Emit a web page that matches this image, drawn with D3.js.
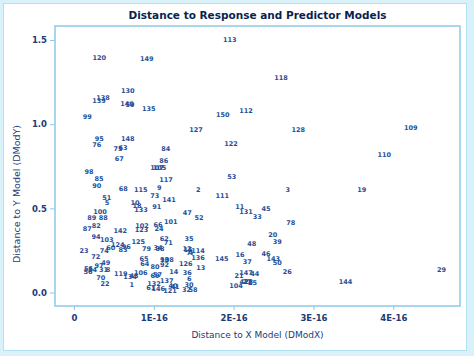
<!DOCTYPE html>
<html><head><meta charset="utf-8">
<script src="https://cdn.jsdelivr.net/npm/d3@7"></script>
<style>
html,body{margin:0;padding:0;background:#d9f2fa;}
svg{display:block;font-family:"DejaVu Sans",Verdana,sans-serif;}
</style></head>
<body><svg id="chart" width="474" height="356"></svg>
<script>
// Observation labels
const labels = [1,2,3,4,5,6,7,8,9,10,11,12,13,14,15,16,18,19,20,21,22,23,24,25,26,27,28,29,30,31,32,33,34,35,36,37,38,39,40,41,42,43,44,45,46,47,48,49,50,51,52,53,54,55,56,57,58,59,60,61,62,63,64,65,66,67,68,69,70,71,72,73,74,75,76,78,79,80,82,83,84,85,86,87,88,89,90,91,92,93,94,95,96,97,98,99,100,101,102,103,104,105,106,107,108,109,110,111,112,113,114,115,117,118,119,120,121,122,123,124,125,126,127,128,130,131,132,133,134,135,136,137,138,139,140,141,142,143,144,145,146,147,148,149,150];
// Distance to X model, in units of 1E-16
const dmodx = [0.723,1.558,2.678,1.466,0.414,1.445,1.435,0.426,1.069,0.764,2.076,1.416,1.588,1.249,1.429,2.080,0.789,3.605,2.490,2.068,0.388,0.125,1.065,2.237,2.673,2.168,2.187,4.603,1.441,0.370,1.410,2.297,1.053,1.441,1.420,2.172,1.078,2.548,1.241,1.266,2.130,0.752,2.264,2.406,2.406,1.420,2.227,0.397,2.548,0.410,1.566,1.976,0.232,0.182,0.175,1.046,1.491,0.702,0.460,0.961,1.132,0.614,0.886,0.877,1.053,0.568,0.618,1.015,0.335,1.182,0.272,1.011,0.380,0.551,0.284,2.716,0.909,1.015,0.279,0.614,1.149,0.313,1.124,0.167,0.367,0.222,0.284,1.036,1.134,1.134,0.276,0.317,0.655,0.313,0.188,0.167,0.326,1.212,0.852,0.410,2.030,1.071,0.836,1.040,1.165,4.219,3.888,1.858,2.155,1.951,1.554,0.836,1.153,2.594,0.585,0.317,1.203,1.967,0.846,0.548,0.806,1.400,1.529,2.811,0.673,2.155,1.003,0.840,0.702,0.936,1.554,1.162,0.363,0.313,0.664,1.190,0.580,2.497,3.402,1.851,1.056,2.155,0.673,0.911,1.863];
// Distance to Y model
const dmody = [0.049,0.613,0.613,0.235,0.534,0.084,0.235,0.137,0.621,0.533,0.508,0.261,0.145,0.124,0.255,0.223,0.514,0.613,0.343,0.100,0.055,0.246,0.377,0.059,0.126,0.062,0.065,0.135,0.049,0.134,0.015,0.450,0.264,0.322,0.116,0.183,0.258,0.304,0.039,0.036,0.065,0.098,0.114,0.496,0.230,0.475,0.288,0.177,0.179,0.565,0.445,0.688,0.134,0.143,0.122,0.104,0.015,1.116,0.268,0.029,0.322,0.858,0.171,0.202,0.403,0.793,0.615,0.101,0.090,0.298,0.213,0.573,0.246,0.852,0.878,0.417,0.260,0.156,0.395,0.254,0.854,0.676,0.785,0.377,0.442,0.442,0.637,0.508,0.163,0.196,0.330,0.916,0.272,0.159,0.716,1.042,0.478,0.423,0.395,0.316,0.039,0.739,0.119,0.741,0.196,0.979,0.818,0.577,1.080,1.499,0.251,0.610,0.672,1.277,0.112,1.394,0.013,0.882,0.371,0.286,0.304,0.173,0.965,0.969,1.198,0.482,0.050,0.490,0.094,1.094,0.209,0.072,1.158,1.141,1.119,0.549,0.369,0.203,0.062,0.201,0.021,0.120,0.916,1.388,1.056];
const xTicks = [0,1,2,3,4];
const yTicks = [0,0.5,1.0,1.5];

const svg = d3.select("#chart");
const L=55, R=460, T=26, B=306;

svg.append("rect").attr("x",3.5).attr("y",3.5).attr("width",463).attr("height",347)
  .attr("fill","#ffffff").attr("stroke","#b3e1f1").attr("stroke-width",1);

const x = d3.scaleLinear().domain([-0.238,4.836]).range([L,R]);
const y = d3.scaleLinear().domain([-0.080,1.583]).range([B,T]);

svg.append("text").attr("x",257.5).attr("y",19).attr("text-anchor","middle")
  .attr("font-size",10.5).attr("font-weight","bold").attr("fill","#0c1f4d")
  .text("Distance to Response and Predictor Models");

const xa = svg.append("g").attr("transform",`translate(0,${B})`)
  .call(d3.axisBottom(x).tickValues(xTicks).tickSize(4).tickPadding(5)
    .tickFormat(d=>d===0?"0":d+"E-16"));
const ya = svg.append("g").attr("transform",`translate(${L},0)`)
  .call(d3.axisLeft(y).tickValues(yTicks).tickSize(5).tickPadding(3)
    .tickFormat(d3.format(".1f")));
[xa,ya].forEach(g=>{
  g.select(".domain").remove();
  g.selectAll(".tick line").attr("stroke","#8ec9e6");
  g.selectAll(".tick text").attr("fill","#1d3a78").attr("font-size",8.5)
    .attr("font-weight","bold").attr("font-family","DejaVu Sans");
});

svg.append("rect").attr("x",L).attr("y",T).attr("width",R-L).attr("height",B-T)
  .attr("fill","none").attr("stroke","#8ec9e6").attr("stroke-width",1.5);

svg.append("text").attr("x",257.5).attr("y",338).attr("text-anchor","middle")
  .attr("font-size",9).attr("fill","#1d3a78").text("Distance to X Model (DModX)");
svg.append("text").attr("transform","translate(20,194) rotate(-90)").attr("text-anchor","middle")
  .attr("font-size",9.5).attr("fill","#1d3a78").text("Distance to Y Model (DModY)");

const pts = labels.map((l,i)=>({l, x:dmodx[i], y:dmody[i]}));
svg.append("g").selectAll("text").data(pts).join("text")
  .attr("x",d=>x(d.x)).attr("y",d=>y(d.y)).attr("dy","0.35em")
  .attr("text-anchor","middle").attr("font-size",6.5).attr("font-weight","bold")
  .attr("fill","#1f4f98").text(d=>d.l);
</script></body></html>
